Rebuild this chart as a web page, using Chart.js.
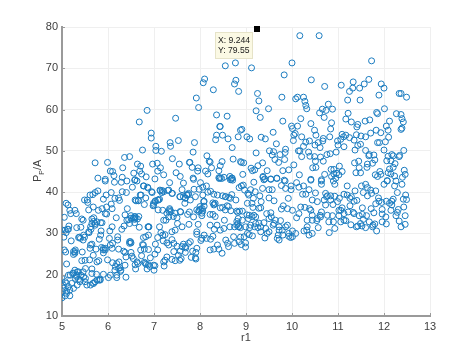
<!DOCTYPE html>
<html>
<head>
<meta charset="utf-8">
<style>
html, body { margin: 0; padding: 0; background: #fff; }
#wrap { width: 474px; height: 355px; }
</style>
<script src="https://cdn.jsdelivr.net/npm/chart.js@4"></script>
</head>
<body>
<div id="wrap"><canvas id="c" width="474" height="355"></canvas></div>
<script>
const xTicks = [5, 6, 7, 8, 9, 10, 11, 12, 13];
const yTicks = [10, 20, 30, 40, 50, 60, 70, 80];
const tipPoint = [9.244, 79.55];
const tipLines = ['X: 9.244', 'Y: 79.55'];

// upper half then lower half
const xs = [
8.55,8.77,8.78,8.75,8.84,8.10,8.07,8.29,7.92,7.97,6.85,6.68,7.47,8.36,8.59,8.43,8.44,8.36,8.49,8.34,8.61,8.83,8.88,8.70,6.94,6.94,7.04,7.04,7.16,6.75,7.35,7.36,7.53,7.88,7.85,8.15,6.36,6.47,5.72,5.99,8.2,8.22,8.72,8.88,7.4,7.77,7.78,8.48,8.44,8.41,6.64,6.71,6.32,6.05,6.1,6.13,6.56,6.69,6.73,6.97,7.07,7.14,7.08,7.21,7.55,7.48,7.57,7.83,7.96,7.95,8.12,8.17,8.25,8.52,8.41,8.65,8.7,5.78,5.94,6.31,6.83,7.02,6.59,7.85,
10.17,10.59,11.73,10.0,9.12,9.83,10.42,11.33,11.67,11.94,11.57,10.71,11.07,11.32,11.47,12.0,11.25,9.25,12.33,12.37,11.89,12.49,9.78,9.28,10.12,10.08,10.25,10.28,10.3,10.32,11.21,11.48,10.79,9.49,9.22,12.01,10.66,10.74,10.88,10.6,11.22,11.84,11.86,12.27,12.37,9.31,10.7,10.19,9.8,11.17,11.29,11.59,11.69,12.39,12.12,12.42,10.86,10.41,11.43,11.41,12.05,9.99,10.12,10.01,10.84,10.49,11.83,12.09,11.71,11.93,12.39,12.37,8.91,9.59,10.07,10.04,10.52,11.4,11.09,11.17,11.5,11.6,9.02,9.08,9.33,9.42,10.21,10.82,12.1,10.68,10.67,10.03,10.38,10.3,10.57,10.99,11.06,11.12,11.25,11.35,11.86,11.9,12.03,9.66,10.5,10.25,11.0,11.13,10.61,11.43,11.49,11.37,12,12.43,11.6,9.51,9.6,9.86,9.85,10.14,10.17,9.22,10.36,10.96,9.57,9.74,10.21,10.39,10.49,10.62,10.76,10.83,11.68,11.67,11.78,12.09,12.17,12.2,12.34,12.33,9.63,9.84,10.51,10.68,11.36,11.45,11.8,11.75,11.64,12.06,12.15,12.24,8.9,8.95,9.36,9.26,9.71,10.04,11.03,10.45,10.52,10.85,10.91,11.63,11.46,12.2,12.12,9.11,9.19,9.14,9.46,9.8,9.93,12.44,11.09,10.97,11.39,11.49,11.91,12.09,11.81,11.93,12.15,12.23,12.46,8.93,9.37,10.16,10.71,10.91,11.02,10.86,11.86,12.4,9.54,9.67,9.41,9.83,10.41,10.64,12.07,10.95,
5.94,6.14,6.29,6.41,6.58,6.63,6.53,6.78,6.87,6.96,7.14,7.18,7.17,7.34,7.3,7.4,7.64,7.61,7.56,7.68,7.72,7.67,7.75,7.87,7.86,8.01,7.98,8.06,8.14,8.23,8.17,8.3,8.06,7.9,8.09,8.28,8.31,8.38,8.49,8.56,8.63,8.69,8.78,8.68,8.71,8.47,8.42,8.85,8.9,8.01,8.05,7.98,8.09,8.04,7.86,7.73,7.77,7.58,7.46,7.34,7.33,7.37,7.19,7.09,6.99,6.98,7.03,7.08,7.12,6.72,6.82,6.61,6.66,6.79,6.31,6.4,6.15,6.23,6.25,6.07,5.96,5.9,5.78,5.72,5.67,5.61,5.49,5.55,5.56,5.09,5.13,5.68,5.58,5.79,5.87,5.97,6.09,6.07,5.94,5.97,6.42,6.37,6.18,6.5,6.41,6.58,6.64,6.58,6.58,6.68,6.47,6.35,6.3,6.09,6.04,5.85,5.84,5.81,6.03,5.69,5.65,5.76,5.72,5.65,5.84,5.62,5.63,5.58,5.41,5.32,5.43,5.46,5.17,5.19,5.28,5.31,5.05,5.15,5.12,5.01,5.09,5.04,5.2,5.38,5.36,5.46,5.49,5.59,5.44,5.62,5.65,5.74,5.61,5.86,5.9,5.94,5.9,6.05,6.1,6.09,6.21,6.21,6.23,5.99,6.1,6.24,6.19,6.34,6.37,6.39,6.47,6.5,6.5,6.52,6.55,6.63,6.65,6.6,6.71,6.77,6.75,6.79,6.73,6.88,6.79,6.83,6.85,6.91,6.99,7.02,7,6.92,7.02,7.08,7.03,7.08,6.89,6.87,6.77,6.82,6.88,7.12,7.15,7.19,7.24,7.2,7.28,7.32,7.39,7.43,7.39,7.46,7.21,7.26,7.32,7.5,7.51,7.61,7.76,7.96,7.93,7.93,8.09,8.04,8.02,8.14,8.22,8.37,8.31,8.44,8.28,8.23,8.22,8.3,8.38,8.41,8.48,8.56,8.6,8.62,8.75,8.85,8.73,8.88,8.65,8.75,8.52,8.53,8.82,8.83,8.8,8.84,8.88,8.8,8.82,8.86,8.67,8.49,8.44,8.59,8.22,8.28,8.33,8.06,7.64,7.68,7.69,7.75,7.79,7.61,7.57,7.53,7.59,7.56,7.46,7.39,7.28,7.24,7.21,7.22,7.81,7.9,7.91,7.84,7.91,7.93,7.68,7.5,7.43,
5.1,5,5.03,5.1,5.01,5,5.07,5.1,5.17,5.17,5.25,5.21,5.14,5.23,5.28,5.33,5.31,5.36,5.33,5.39,5.41,5.46,5.51,5.51,5.5,5.54,5.62,5.67,5.72,5.8,5.83,5.75,5.65,5.65,5.9,6.01,6.05,6.19,6.19,6.39,6.15,6.26,6.28,6.37,5.76,5.8,5.68,5.6,5.5,5.43,5.28,5.25,5.05,5.08,5.28,
9.37,9.39,9.54,9.67,9.17,9.85,9.98,10.1,10.15,10.25,10.41,10.64,10.64,10.93,10.9,11.2,11.51,11.6,11.64,12.0,12.07,12.23,12.39,12.26,9.1,8.94,8.97,9.04,9.36,9.5,9.57,9.77,9.86,9.98,10.23,10.3,10.37,10.51,10.73,10.77,10.84,10.93,11.13,11.2,11.37,11.29,11.55,11.71,11.82,11.73,11.64,12.29,12.47,12.42,12.49,12.2,12.17,12.12,12.17,12.05,11.89,11.95,11.88,11.82,12.43,12.31,12.29,12.15,11.96,11.96,12.04,12.26,12.46,12.33,12.46,12.37,12.05,11.96,11.84,11.8,11.75,11.76,11.68,11.78,11.72,11.53,11.62,11.53,11.46,11.55,11.49,11.4,11.43,11.52,11.6,11.28,11.33,11.35,11.26,11.22,11.13,11.06,11.02,11.09,11.17,11.13,11.06,11.02,10.93,10.81,10.9,10.8,10.88,10.77,10.64,10.61,10.55,10.54,10.62,10.44,10.33,10.57,10.44,10.37,10.33,10.32,10.26,10.08,10.01,10.1,10.15,10.01,9.9,9.81,9.77,10.19,10.28,10.38,10.55,10.44,9.92,9.61,9.5,9.3,9.33,9.15,9.32,9.16,9.03,8.92,9.07,9.05,9.17,9.21,9.1,8.99,8.92,9.08,9.19,9.21,9.26,9.32,9.39,9.43,9.5,9.46,9.41,9.32,9.03,9.07,8.96,9.14,8.99,8.9,8.99,9.54,9.55,9.64,9.61,9.75,9.9,9.86,9.72,9.72,9.79,9.7,9.72,9.8,9.93,9.97,10.01,9.93,9.68,9.59,9.5,9.45,10.44,10.41,10.99,11.03,10.89,11.41,11.35,11.26,10.84,10.75,10.73,10.7,
7.71,7.68,7.75,7.64,7.57,7.79,8.69,8.66,8.44,7.13,7.21,7.39,7.32,7.1,7.02,6.99,6.59,6.66,6.7,6.77,6.86,6.95,8.0,8.08,7.97,8.04,7.93,8.33,8.3,8.55,8.62,8.55,8.66,7.34,7.28,7.42,7.57,6.55,6.59,6.88,8.8,8.84,9.02,9.13,9.28,9.06,9.2,9.13,9.28,
5.9,5.94,6.49,6.47,6.59,6.23,6.16,6.27,6.88,6.81,5.25,5.29,5.25,5.32,5.36,5.18,5.29,5.07,5.14,5.03,5.1,5.4,5.47,5.76,5.83,5.69,6.45,6.59,6.67,6.5,5.07,5.14,5.47,5.4,5.69,5.87,5.72
];
const ys = [
70.6,71.3,67.1,66.2,64.4,67.4,66.5,64.8,62.8,60.5,59.8,57.0,57.9,58.7,58.4,55.9,55.9,53.8,53.8,52.7,52.9,53.4,55,50.8,54.3,53.1,51.1,50.1,49.9,50.2,52,51.1,52.5,52,49.7,48.8,48.4,48.6,47.1,47.2,47.5,47.3,48,47.4,48.1,47.2,47.2,47.4,46.4,45.2,46.8,46.3,45.9,45.1,45,44,44.6,45.1,44.4,46.8,47,45.9,45.1,44.2,46.8,44.7,43.8,46,45.9,45.1,45.1,44.4,45.9,43.6,43.5,43.8,43.4,43.4,43.1,43.6,43.7,43.2,43,43.4,
77.9,77.9,71.8,71.3,70.1,68.4,67.2,66.7,67.3,66.2,66.2,65.6,65.9,65.2,65.2,65.2,64.4,63.9,63.9,63.9,63.5,63,63,62.1,63,62.6,63,62,61.0,60.2,62.3,62.3,61.3,60.2,59.7,60.2,60.1,59.8,60.1,59.2,59.1,59.3,59,59,58.8,58.1,58.1,57.8,57.2,57.7,57,57.2,57.5,57.8,57.2,57,56.8,56.6,56.4,55.8,56,56,56,55.4,55.3,55,55,55,54.3,54.4,55.5,55.2,55.2,54.5,54.2,53.8,53.8,53.9,54,53.8,53.6,53.4,53.4,52.9,53.3,52.9,53.4,53.4,53.3,53,52.4,52.5,52.4,52.1,52,52.4,52.8,53.4,53.2,52.6,52,52,52.2,51.7,51.4,51.1,51.4,51,50.8,51.3,51.6,50.2,50.2,50.1,50.1,50,49.8,50.4,49.6,50,50,49.5,49.7,49.7,49,49.1,48.6,48.7,48.6,48.5,49.1,49.3,49.1,48.8,49,48.7,49.1,48.8,48.9,48.6,47.9,47.9,47.5,47.5,47.1,47.5,47.8,47,46.8,47.6,47.6,46.9,47.2,47.1,47.1,46.4,47.2,46.6,46.3,45.9,46,45.5,45.5,46,45.9,46,45.6,45.8,45.4,45.2,45.2,45.2,45.4,45.3,45,44.6,44.7,44.7,45,44.7,44.2,44.3,44.4,43.9,44.3,44.3,43.8,44.2,44.3,44.4,44.2,43.8,43.8,43.6,43.2,43.4,43.2,42.9,43.1,43,42.8,43.4,
42.7,42.4,42.4,42.7,42.9,42.7,41.2,41.5,41,39.9,40.3,40.4,39.9,42.3,40.4,39.7,42.2,40.6,38.9,38.6,39.4,37.3,39.4,40.7,43.1,42.3,40.7,41.2,41.5,40.2,40,39.5,39.3,38.9,37.8,37.4,37.1,39.3,39.1,38.9,38.7,39.4,38.1,43.1,42.9,43.3,43.3,41.1,41.5,35.9,36,35.6,36.6,34.3,34,34.6,35.2,35.2,34.9,36,35.3,35.3,35.6,35.7,37.3,36.7,37.9,38.1,38.3,39.3,38.6,37.9,38,37,40.1,39.9,38.5,38.6,38,39.9,39.3,38.3,40.3,39.9,39.4,39.3,38.1,38.1,37.5,37.3,36.9,36.4,35.7,35.6,36,36.4,36,37.1,34.8,34.7,36,34.5,33.8,34.3,33.2,34,33.5,33.4,32.6,31.5,32.4,31.8,31,31.6,30.6,30.6,29.6,28.6,28.8,33.8,33.5,32.8,32.4,32.4,32.6,31.6,31,30.4,31.5,31.4,33.5,33.2,35.6,34.8,35.6,34.8,33.9,31.8,31,30.8,30.2,29.1,28.2,29.1,29,28.4,29.1,30.2,25.5,27.2,27.4,26.2,26.4,26.6,26.4,26,25.3,27.2,27.6,26.4,28.4,29.2,26.2,23.6,22.9,23.1,22.7,25.7,25.4,24.3,28,27.7,25.4,24.5,23.9,23.1,22.7,21.4,26,27.2,27.3,26.2,24.6,26.1,23,22.5,21.4,22,22.3,22.2,21.1,24.1,25,26,27.4,29,31.6,31.6,29,29.2,29.6,31.6,30.2,29.6,29.7,28.2,27.7,27.2,28.5,27.6,30.4,30.8,33.2,33.2,34,33.8,32.4,31.6,32.2,32.2,30.4,29.8,29.6,28.8,28.3,28.8,32,32,31,30.8,29.3,28.6,26,26.2,27.2,26.2,25.2,28.4,27.6,26.8,27.6,28,29.2,29.1,31.6,31.6,31.2,33.2,32.4,33.6,32,31.6,31.4,35.4,35.1,35.4,35.5,36.3,36.2,36.7,34.6,34.6,34.1,35.4,27.4,26.8,26.5,27.6,28,26.8,25.7,24.7,23.9,23.5,23.4,23.7,24.3,23.5,23.1,22.1,24.2,24.1,23.8,25.7,25.4,26.4,25.4,26.9,25.6,
22.6,19.1,17.5,17.9,15.9,14.4,14.9,16,14.9,16.3,16.7,17.9,19.9,20.3,21.1,20.7,19.6,18.9,17.5,18.3,19.9,20.7,21.5,19.1,18.3,17.5,17.5,17.9,18.3,18.7,18.9,20.1,21.4,20.3,20.1,19.3,19.9,19.9,19.3,19.4,21.1,21.7,21.1,22.3,23.1,23.4,24.7,23.6,23.5,23.4,25.2,24.9,26,25.5,25.6,
43.6,43,43.1,43.3,42.4,42.7,41.5,42.3,41.2,41.5,42.9,42.7,41.9,41.9,42.7,41.5,41.5,41.9,41.1,41.9,42.7,41.5,41.9,42.7,40.6,41.7,40.5,39.7,40.9,40.6,40.6,41.6,40.9,40.6,39.5,39.5,40.6,39.8,39.7,39.1,39.1,39,39.5,39.3,40.3,38.9,39.9,40.5,40.3,39.7,39.1,39.9,39.3,38.3,38.2,38.3,37.8,37.3,36.9,37.8,37.8,37.5,38.6,37.2,36.4,35.8,35.1,35.6,35.8,34.7,34,34.3,34.3,33,32.2,31.6,32.3,32.8,30.6,32.3,31.6,32,32.8,35,36,36.2,34.3,34.6,34.3,33.4,32.4,31.6,31.8,31.8,31.4,32.1,35.1,34.8,36.7,35.2,34.8,35.6,35.6,36.2,33.1,33.2,32.8,34.3,31.2,30.2,32.8,32.8,34.3,34.4,35.2,34.4,33.6,33.1,34,33.2,33.2,31.4,30,29.6,31.6,30.8,30.6,30,30.6,33.8,34.8,35.6,36,36.7,35.9,36.4,36.3,36,37.7,38.1,38.5,37.9,38.6,39.1,37.7,36.3,36.2,38.5,37.3,35.4,34.4,33.6,34.4,34,32,31.6,33.2,31.4,31.6,32.4,31.4,31.6,32.6,31.2,30.4,30,28.9,30.4,30,29.7,29.2,29.4,27.7,27.3,26.7,35,34,33.2,32.4,33.1,32,31.6,31.6,30.8,30.8,29.6,28.4,29.6,30,29,29.2,29.3,28.8,32,33.6,34.8,34.4,35.6,37.7,38.5,37,38,37.8,38.5,38.1,38.9,36.9,38.1,
39.3,38.5,39.7,38.9,38.9,38.1,43.4,43,43.5,40.5,40.1,39.7,40.5,38.1,37.7,36.9,38.1,37.9,39.3,41.5,41.2,40.1,36.5,37.7,35.3,34.9,35.7,37.3,36.9,38.9,36.5,35.7,38.5,35.7,34.9,34.1,35.3,33.7,34.1,31.6,32.9,31.7,34.5,34.1,32.5,39.3,40.1,37.3,36.1,
26,26.4,28,27.6,22.4,21.5,22,20.8,22.4,22.8,25.6,26,20.4,19.9,20.7,19.9,19.1,18.3,17.1,16.7,15.5,18.7,19.5,18.7,18.7,17.9,33.3,33.7,34.1,33.7,30.8,31,29.6,28.8,32.9,32.6,32
];

const points = xs.map((x, i) => ({ x: x, y: ys[i] }));
const axisColor = '#9a9a9a';
const textColor = '#404040';
const gridColor = '#efefef';

// MATLAB style bits: inward ticks, black data tip marker with its box, P_P/A label
const extras = {
    id: 'extras',
    afterDraw(chart) {
        const c = chart.ctx, sx = chart.scales.x, sy = chart.scales.y, a = chart.chartArea;
        c.save();
        c.strokeStyle = axisColor;
        c.lineWidth = 1;
        c.beginPath();
        xTicks.forEach(v => {
            const p = Math.round(sx.getPixelForValue(v)) + 0.5;
            c.moveTo(p, a.bottom);
            c.lineTo(p, a.bottom - 3);
        });
        yTicks.forEach(v => {
            const p = Math.round(sy.getPixelForValue(v)) + 0.5;
            c.moveTo(a.left, p);
            c.lineTo(a.left + 3, p);
        });
        c.stroke();

        const px = sx.getPixelForValue(tipPoint[0]), py = sy.getPixelForValue(tipPoint[1]);
        c.fillStyle = '#000';
        c.fillRect(Math.round(px) - 3, Math.round(py) - 3, 6, 6);

        c.fillStyle = '#fbf9e4';
        c.strokeStyle = '#e6e3c8';
        c.fillRect(215.5, 32.5, 37, 26);
        c.strokeRect(215.5, 32.5, 37, 26);
        c.fillStyle = '#1a1a1a';
        c.font = '8.6px "Liberation Sans"';
        c.textBaseline = 'middle';
        c.fillText(tipLines[0], 218, 41);
        c.fillText(tipLines[1], 218, 51);

        c.translate(40.5, 182);
        c.rotate(-Math.PI / 2);
        c.fillStyle = textColor;
        c.textBaseline = 'alphabetic';
        c.textAlign = 'left';
        c.font = '11px "Liberation Sans"';
        c.fillText('P', 0, 0);
        c.font = '7px "Liberation Sans"';
        c.fillText('P', 7.3, 3);
        c.font = '11px "Liberation Sans"';
        c.fillText('/A', 12, 0);
        c.restore();
    }
};

new Chart(document.getElementById('c').getContext('2d'), {
    type: 'scatter',
    data: {
        datasets: [{
            data: points,
            pointStyle: 'circle',
            pointRadius: 3,
            pointBorderWidth: 1,
            pointBorderColor: '#1b7cc0',
            pointBackgroundColor: 'rgba(0,0,0,0)'
        }]
    },
    options: {
        responsive: false,
        animation: false,
        events: [],
        layout: { padding: { left: 0, right: 44, top: 27, bottom: 0 } },
        plugins: { legend: { display: false }, tooltip: { enabled: false } },
        scales: {
            x: {
                type: 'linear', min: 5, max: 13,
                grid: { color: gridColor, drawTicks: false },
                border: { color: axisColor, width: 2 },
                afterBuildTicks: s => { s.ticks = xTicks.map(v => ({ value: v })); },
                afterFit: s => { s.height = 39; },
                ticks: { color: textColor, font: { family: 'Liberation Sans', size: 11 }, padding: 4, maxRotation: 0 },
                title: { display: true, text: 'r1', color: textColor, font: { family: 'Liberation Sans', size: 11 }, padding: { top: 0, bottom: 10 } }
            },
            y: {
                type: 'linear', min: 10, max: 80,
                grid: { color: gridColor, drawTicks: false },
                border: { color: axisColor, width: 2 },
                afterBuildTicks: s => { s.ticks = yTicks.map(v => ({ value: v })); },
                afterFit: s => { s.width = 62; },
                ticks: { color: textColor, font: { family: 'Liberation Sans', size: 11 }, padding: 4 }
            }
        }
    },
    plugins: [extras]
});
</script>
</body>
</html>
